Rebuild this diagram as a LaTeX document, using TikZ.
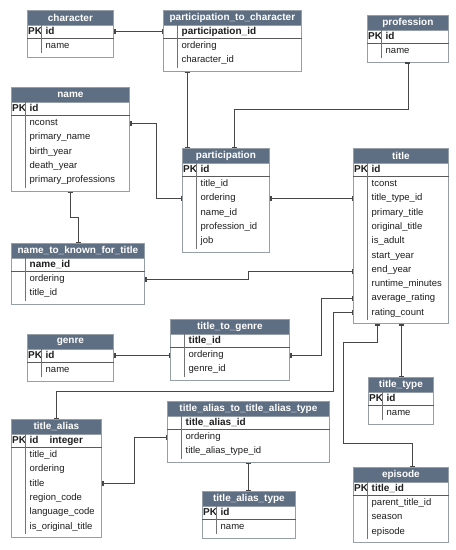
\documentclass[tikz,border=0pt]{standalone}
\usepackage{fontspec}
\setmainfont{Liberation Sans}
\usepackage{tikz}
\usetikzlibrary{arrows.meta,shadows}

\definecolor{hdrgrey}{RGB}{94,110,131}
\definecolor{boxgrey}{RGB}{150,158,168}
\definecolor{relgrey}{RGB}{70,70,70}
\definecolor{txtdark}{RGB}{30,30,30}

\tikzset{
  erbody/.style={draw=boxgrey, line width=0.8pt, fill=white, inner sep=0pt,
    drop shadow={shadow xshift=0.8pt, shadow yshift=-0.8pt, opacity=0.25}},
  erhead/.style={draw=boxgrey, line width=0.8pt, fill=hdrgrey, text=white,
    font=\bfseries, minimum height=14.5pt, inner sep=0pt},
  erkey/.style={anchor=west, inner sep=0pt, text=txtdark, font=\bfseries,
    text height=7pt, text depth=2pt},
  erfield/.style={anchor=west, inner sep=0pt, text=txtdark,
    text height=7pt, text depth=2pt},
  erkeyline/.style={draw=black!65, line width=1.2pt},
  ercol/.style={draw=black!55, line width=0.6pt},
  rel/.style={draw=relgrey, line width=0.75pt,
    {Bar[width=5pt]Bar[width=5pt]}-{Bar[width=5pt]Bar[width=5pt]}},
}

% #1 node, #2 header, #3 x, #4 y, #5 width, #6 PK, #7 key field, #8 fields, #9 number of fields
\newcommand{\ertable}[9]{%
  \node[erbody, minimum width=#5, minimum height={46.5+14.3*(#9-1)}, anchor=north west] (#1) at (#3,#4) {};
  \node[erhead, minimum width=#5, anchor=north west] (#1-h) at (#1.north west) {#2};
  \node[erkey] (#1-pk) at ([xshift=1pt, yshift=-21.5pt]#1.north west) {#6};
  \node[erkey] (#1-key) at ([xshift=18.5pt, yshift=-21.5pt]#1.north west) {#7};
  \draw[erkeyline] ([yshift=-28.5pt]#1.north west) -- ([yshift=-28.5pt]#1.north east);
  \draw[ercol] ([xshift=14.5pt, yshift=-14.5pt]#1.north west) -- ([xshift=14.5pt, yshift=4pt]#1.south west);
  \foreach \f [count=\i] in {#8}
    \node[erfield] (#1-\i) at ([xshift=18.5pt, yshift={-36pt-14.3pt*(\i-1)}]#1.north west) {\f};
}

\begin{document}
\begin{tikzpicture}[x=1pt, y=-1pt, font=\fontsize{9.5}{11}\selectfont]
  \useasboundingbox (0,0) rectangle (456,550);

  \ertable{character}{character}{27}{10}{86}{PK}{id}{name}{1}
  \ertable{ptc}{participation\_to\_character}{163}{10}{138}{}{participation\_id}{ordering, character\_id}{2}
  \ertable{profession}{profession}{367}{15}{81}{PK}{id}{name}{1}
  \ertable{name}{name}{11}{87}{118}{PK}{id}{nconst, primary\_name, birth\_year, death\_year, primary\_professions}{5}
  \ertable{ntk}{name\_to\_known\_for\_title}{11}{243}{133}{}{name\_id}{ordering, title\_id}{2}
  \ertable{participation}{participation}{182}{148}{87}{PK}{id}{title\_id, ordering, name\_id, profession\_id, job}{5}
  \ertable{title}{title}{353}{148}{95}{PK}{id}{tconst, title\_type\_id, primary\_title, original\_title, is\_adult, start\_year, end\_year, runtime\_minutes, average\_rating, rating\_count}{10}
  \ertable{genre}{genre}{27}{334}{86}{PK}{id}{name}{1}
  \ertable{ttg}{title\_to\_genre}{170}{319}{119}{}{title\_id}{ordering, genre\_id}{2}
  \ertable{titletype}{title\_type}{368}{377}{65}{PK}{id}{name}{1}
  \ertable{episode}{episode}{353}{467}{95}{PK}{title\_id}{parent\_title\_id, season, episode}{3}
  \ertable{alias}{title\_alias}{11}{419}{90}{PK}{id\hspace{1.1em}integer}{title\_id, ordering, title, region\_code, language\_code, is\_original\_title}{6}
  \ertable{tat}{title\_alias\_to\_title\_alias\_type}{167}{401}{162}{}{title\_alias\_id}{ordering, title\_alias\_type\_id}{2}
  \ertable{tatype}{title\_alias\_type}{202}{491}{93}{PK}{id}{name}{1}

  % relations
  \draw[rel] (character-key -| character.east) -- (character-key -| ptc.west);
  \draw[rel] ([xshift=24pt]ptc.south west) -- ([xshift=5pt]participation.north west);
  \draw[rel] (profession.south) -- ++(0,47.5) -| ([xshift=52pt]participation.north west);
  \draw[rel] (name-1 -| name.east) -- ++(27,0) |- (participation-2 -| participation.west);
  \draw[rel] ([xshift=59pt]name.south west) -- ++(0,26) -| ([xshift=67pt]ntk.north west);
  \draw[rel] (participation-2 -| participation.east) -- (participation-2 -| title.west);
  \draw[rel] (ntk-1 -| ntk.east) -- ++(104,0) |- ([yshift=-2pt]title-7.west -| title.west);
  \draw[rel] (ttg-1 -| ttg.east) -- ++(32,0) |- (title-9 -| title.west);
  \draw[rel] (genre-key -| genre.east) -- (genre-key -| ttg.west);
  \draw[rel] ([xshift=45pt]alias.north west) |- ++(277,-28) |- (title-10 -| title.west);
  \draw[rel] (alias-3 -| alias.east) -- ++(33,0) |- (tat-1 -| tat.west);
  \draw[rel] ([xshift=81pt]tat.south west) -- ([xshift=46pt]tatype.north west);
  \draw[rel] ([xshift=24pt]title.south west) -- ++(0,18) -- ++(-34,0) -- ++(0,101) -| ([xshift=59pt]episode.north west);
  \draw[rel] ([xshift=48pt]title.south west) -- ([xshift=33pt]titletype.north west);
\end{tikzpicture}
\end{document}
